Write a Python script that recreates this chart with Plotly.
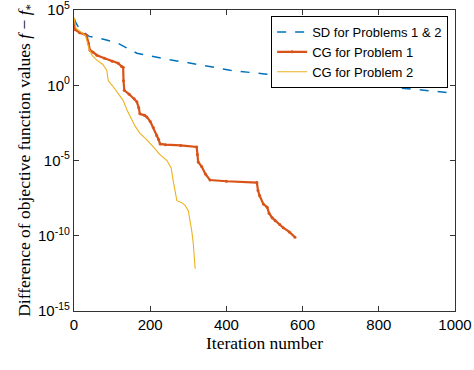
import plotly.graph_objects as go

# ---- data (y values given as log10 exponents) ----
sd_iter = [0, 15, 40, 80, 113, 140, 165, 200, 250, 300, 383, 410, 500, 593, 700, 800, 900, 1000]
sd_log10 = [4.4, 3.7, 3.25, 3.05, 2.82, 2.45, 2.13, 1.95, 1.7, 1.5, 1.13, 1.0, 0.75, 0.47, 0.2, -0.05, -0.3, -0.53]

cg1_iter = [0, 3, 15, 33, 38, 42, 50, 60, 80, 100, 116, 125, 129, 130, 132, 145, 158, 165, 170, 173,
            185, 191, 200, 208, 217, 222, 226, 240, 280, 322, 324, 326, 335, 345, 357, 400, 480,
            483, 487, 497, 507, 512, 520, 528, 540, 549, 565, 580]
cg1_log10 = [4.35, 3.7, 3.5, 3.33, 2.8, 2.33, 2.2, 2.0, 1.8, 1.6, 1.47, 1.25, 1.2, 0.3, -0.33, -0.6, -0.9, -1.1, -1.5, -1.9,
             -2.0, -2.1, -2.4, -2.8, -3.33, -3.6, -3.9, -3.95, -4.0, -4.1, -4.6, -5.1, -5.4, -5.9, -6.3, -6.38, -6.47,
             -7.0, -7.33, -7.9, -8.1, -8.5, -8.8, -9.0, -9.25, -9.47, -9.75, -10.1]

cg2_iter = [0, 5, 20, 30, 40, 47, 60, 75, 86, 90, 100, 115, 129, 140, 152, 160, 173, 190, 208, 225,
            244, 255, 260, 265, 270, 283, 292, 300, 305, 309, 313, 316, 318]
cg2_log10 = [4.5, 3.8, 3.5, 3.3, 2.4, 2.0, 1.67, 1.4, 1.0, 0.3, 0.0, -0.5, -1.0, -1.7, -2.3, -2.7, -3.2, -3.6, -4.1, -4.6,
             -5.0, -5.5, -6.3, -7.0, -7.67, -7.8, -8.0, -8.33, -9.0, -9.67, -10.5, -11.5, -12.2]

y_ticks = [-15, -10, -5, 0, 5]
x_ticks = [0, 200, 400, 600, 800, 1000]

names = ["SD for Problems 1 & 2", "CG for Problem 1", "CG for Problem 2"]

fig = go.Figure()
fig.add_trace(go.Scatter(x=sd_iter, y=[10 ** v for v in sd_log10], mode="lines", name=names[0],
                         line=dict(color="#0072BD", width=1.5, dash="dash")))
fig.add_trace(go.Scatter(x=cg1_iter, y=[10 ** v for v in cg1_log10], mode="lines+markers", name=names[1],
                         line=dict(color="#D95319", width=2.2), marker=dict(size=3, color="#D95319")))
fig.add_trace(go.Scatter(x=cg2_iter, y=[10 ** v for v in cg2_log10], mode="lines", name=names[2],
                         line=dict(color="#EDB120", width=1.1)))

tick_font = dict(family="Liberation Sans, Arial, sans-serif", size=15, color="black")
title_font = dict(family="Liberation Serif, Times New Roman, serif", size=17.5, color="black")

axis_common = dict(automargin=False, ticks="inside", ticklen=5, tickcolor="#333333",
                   showline=True, linecolor="#333333", linewidth=1.3, showgrid=False,
                   zeroline=False, tickfont=tick_font, ticklabeloverflow="allow")
overlay_common = {k: v for k, v in axis_common.items() if k != "tickfont"}

fig.update_layout(
    width=474, height=370,
    margin=dict(l=74, r=19, t=10, b=59),
    plot_bgcolor="white", paper_bgcolor="white",
    showlegend=True,
    legend=dict(x=0.982, y=0.98, xanchor="right", yanchor="top",
                bgcolor="white", bordercolor="black", borderwidth=1,
                font=dict(family="Liberation Sans, Arial, sans-serif", size=13, color="black"),
                tracegroupgap=0, itemwidth=30),
    xaxis=dict(range=[0, 1000], tickvals=x_ticks, ticktext=[str(t) for t in x_ticks],
               mirror="allticks",
               title=dict(text="Iteration number", font=title_font, standoff=4), **axis_common),
    yaxis=dict(type="log", range=[-15.005, 5.005], tickvals=[10 ** t for t in y_ticks],
               ticktext=["10<sup>%d</sup>" % t for t in y_ticks], mirror="allticks",
               title=dict(text="Difference of objective function values <i>f</i> − <i>f</i><sub>*</sub>",
                          font=title_font, standoff=2), **axis_common),
    # overlay axes on top and right to draw the box edges and mirrored ticks
    xaxis2=dict(overlaying="x", side="top", matches="x", tickvals=x_ticks, showticklabels=False,
                **overlay_common),
    yaxis2=dict(overlaying="y", side="right", type="log", range=[-15.005, 5.005],
                tickvals=[10 ** t for t in y_ticks], showticklabels=False, **overlay_common),
)
# invisible helper trace that activates the overlay axes
fig.add_trace(go.Scatter(x=[None], y=[None], xaxis="x2", yaxis="y2", showlegend=False,
                         hoverinfo="skip"))

fig.write_html("out.html", config={"displayModeBar": False},
               post_script="document.body.style.margin='0px';document.body.style.overflow='hidden';")
